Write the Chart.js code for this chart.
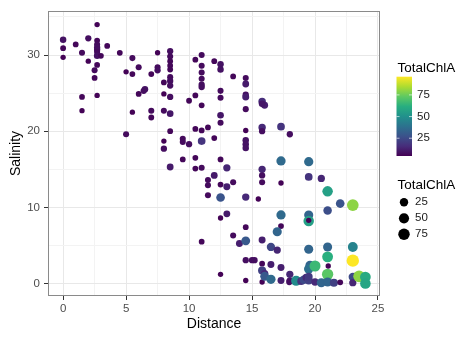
<!DOCTYPE html>
<html>
<head>
<meta charset="utf-8">
<script src="https://cdn.jsdelivr.net/npm/chart.js@4"></script>
<style>
  html, body { margin: 0; padding: 0; background: #ffffff; }
  #wrap { width: 474px; height: 338px; }
</style>
</head>
<body>
<div id="wrap"><canvas id="c" width="474" height="338"></canvas></div>
<script>
// ---- data ----
const distance = [
  0, 0, 0, 1.0, 1.5, 2.0, 2.0, 2.7, 2.7, 2.7,
  2.7, 2.7, 2.7, 2.7, 3.0, 2.7, 2.5, 2.5, 2.7, 3.5,
  1.5, 1.5, 4.5, 5.5, 5.0, 5.5, 6.0, 6.5, 6.4, 6.0,
  5.5, 5.0, 7.0, 7.0, 7.0, 7.5, 7.5, 7.5, 8.0, 8.0,
  8.0, 8.0, 8.0, 8.5, 8.5, 8.5, 8.5, 8.5, 8.5, 8.5,
  8.5, 8.5, 8.5, 8.5, 8.5, 9.5, 9.5, 10.0, 9.5, 10.0,
  10.5, 10.5, 10.5, 10.5, 10.5, 11.0, 11.0, 11.0, 11.0, 11.0,
  11.0, 11.0, 11.0, 11.0, 11.0, 11.5, 12.0, 12.0, 12.5, 12.5,
  12.5, 12.5, 12.5, 12.5, 12.5, 13.0, 13.5, 14.5, 14.5, 14.5,
  14.5, 14.5, 14.5, 14.5, 14.5, 14.5, 15.8, 16.0, 15.8, 15.8,
  15.8, 17.3, 18.0, 17.3, 19.5, 15.8, 15.8, 15.8, 19.5, 20.5,
  17.3, 11.5, 11.5, 12.0, 12.5, 13.0, 13.5, 11.5, 12.5, 14.5,
  15.5, 21.0, 22.0, 23.0, 21.0, 17.3, 19.5, 19.5, 19.5, 12.5,
  13.0, 17.3, 17.0, 13.5, 14.5, 11.0, 14.0, 14.5, 15.8, 16.5,
  17.0, 19.5, 21.0, 23.0, 21.0, 23.0, 14.5, 15.0, 15.2, 15.8,
  16.5, 17.3, 15.8, 16.0, 18.0, 19.6, 19.5, 20.0, 21.0, 21.05,
  12.5, 14.5, 15.8, 16.0, 16.5, 17.3, 18.0, 17.96, 18.5, 18.9,
  19.1, 19.3, 19.5, 19.5, 20.0, 20.5, 21.0, 21.5, 22.0, 23.0,
  23.0, 23.5, 24.0, 24.0
];
const salinity = [
  32.0, 30.9, 29.7, 31.4, 30.3, 32.2, 29.2, 34.0, 31.9, 31.4,
  31.0, 30.7, 30.4, 29.9, 29.9, 28.7, 28.0, 27.0, 24.7, 31.2,
  24.5, 22.7, 30.3, 29.6, 27.8, 27.5, 28.4, 25.5, 25.3, 24.9,
  22.5, 19.6, 27.5, 22.7, 21.8, 30.3, 28.4, 28.0, 26.4, 24.9,
  22.7, 18.7, 17.7, 30.5, 29.8, 29.2, 28.6, 28.1, 27.1, 26.6,
  26.0, 24.5, 22.3, 20.0, 15.3, 19.0, 18.6, 18.3, 16.3, 24.0,
  29.4, 24.7, 20.3, 16.5, 15.1, 15.2, 30.0, 28.6, 27.7, 26.9,
  26.1, 25.8, 23.4, 20.1, 18.7, 20.5, 19.1, 29.2, 28.8, 28.1,
  25.3, 24.4, 22.1, 21.1, 16.3, 15.2, 27.2, 27.0, 26.2, 24.8,
  24.5, 22.9, 20.1, 18.8, 18.3, 17.8, 23.9, 23.4, 23.6, 20.5,
  20.0, 20.6, 19.6, 16.1, 16.0, 15.0, 14.2, 13.3, 14.0, 13.8,
  13.2, 13.6, 12.9, 14.2, 13.0, 12.7, 13.3, 11.6, 11.3, 11.35,
  11.1, 12.1, 10.5, 10.3, 9.6, 9.0, 9.0, 8.2, 8.3, 8.6,
  9.15, 7.55, 6.8, 6.3, 7.4, 5.5, 5.25, 5.6, 5.7, 4.8,
  4.4, 4.5, 4.8, 4.8, 3.5, 3.0, 3.06, 3.06, 3.06, 2.6,
  2.5, 2.1, 1.7, 1.3, 1.2, 2.4, 1.9, 2.3, 1.2, 2.3,
  1.2, 0.4, 0.2, 0.95, 0.55, 0.4, 0.35, 0.2, 0.35, 0.3,
  0.5, 0.8, 0.4, 0.9, 0.2, 0.1, 0.2, 0.1, 0.15, 0.85,
  0.1, 0.95, 0.85, 0.0
];
const totalChlA = [
  9, 6, 5, 6, 7, 8, 5, 5, 6, 7,
  8, 8, 7, 9, 6, 6, 7, 6, 5, 6,
  6, 5, 6, 7, 5, 6, 7, 9, 8, 6,
  5, 7, 6, 7, 6, 5, 7, 8, 6, 5,
  7, 5, 8, 8, 7, 6, 6, 6, 7, 8,
  8, 8, 10, 6, 11, 7, 7, 8, 6, 6,
  6, 6, 6, 6, 6, 7, 7, 7, 7, 7,
  8, 8, 6, 6, 18, 6, 6, 6, 9, 9,
  7, 7, 10, 7, 6, 14, 6, 7, 11, 8,
  12, 7, 5, 9, 9, 9, 16, 12, 10, 15,
  8, 18, 8, 36, 36, 14, 8, 7, 18, 14,
  5, 7, 7, 11, 6, 12, 7, 7, 28, 15,
  5, 56, 28, 80, 26, 36, 34, 56, 5, 5,
  11, 6, 34, 7, 6, 6, 12, 30, 12, 24,
  14, 34, 34, 45, 62, 96, 8, 8, 8, 6,
  12, 12, 22, 15, 14, 34, 38, 66, 72, 5,
  5, 5, 5, 30, 36, 12, 10, 8, 48, 18,
  25, 15, 22, 20, 15, 34, 34, 22, 6, 25,
  14, 80, 60, 58
];
const xMajorTicks = [0, 5, 10, 15, 20, 25];
const xMinorTicks = [2.5, 7.5, 12.5, 17.5, 22.5];
const yMajorTicks = [0, 10, 20, 30];
const yMinorTicks = [5, 15, 25, 35];
const legendBreaks = [25, 50, 75];

// ---- scales for colour and size ----
const chlMin = 4.5, chlMax = 96;
const viridisStops = ['#440154', '#472d7b', '#3b528b', '#2c728e', '#21918c', '#28ae80', '#5ec962', '#addc30', '#fde725'];
function hexToRgb(h) { return [parseInt(h.slice(1,3),16), parseInt(h.slice(3,5),16), parseInt(h.slice(5,7),16)]; }
function viridis(t) {
  t = Math.max(0, Math.min(1, t));
  const n = viridisStops.length - 1;
  const p = t * n;
  const i = Math.min(n - 1, Math.floor(p));
  const f = p - i;
  const a = hexToRgb(viridisStops[i]), b = hexToRgb(viridisStops[i + 1]);
  const c = a.map((v, k) => Math.round(v + (b[k] - v) * f));
  return 'rgb(' + c.join(',') + ')';
}
function tOf(v) { return Math.max(0, Math.min(1, (v - chlMin) / (chlMax - chlMin))); }
function radiusOf(v) { return 2.4 + 3.8 * Math.sqrt(tOf(v)); }

const points = distance.map((d, i) => ({ x: d, y: salinity[i] }));

const FONT = '"Liberation Sans", Arial, Helvetica, sans-serif';

const panelPlugin = {
  id: 'panelDeco',
  afterDraw(chart) {
    const ctx = chart.ctx;
    const a = chart.chartArea;
    ctx.save();
    ctx.strokeStyle = '#8a8a8a';
    ctx.lineWidth = 1;
    ctx.strokeRect(Math.round(a.left) + 0.5, Math.round(a.top) + 0.5, Math.round(a.right - a.left) - 1, Math.round(a.bottom - a.top) - 1);

    // colour legend
    ctx.fillStyle = '#000';
    ctx.font = '13.5px ' + FONT;
    ctx.textAlign = 'left';
    ctx.textBaseline = 'middle';
    ctx.fillText('TotalChlA', 397.5, 68);
    const bx = 396.5, bw = 15.5, bTop = 76.7, bBot = 156;
    const g = ctx.createLinearGradient(0, bBot, 0, bTop);
    viridisStops.forEach((c, i) => g.addColorStop(i / (viridisStops.length - 1), c));
    ctx.fillStyle = g;
    ctx.fillRect(bx, bTop, bw, bBot - bTop);
    ctx.font = '11.5px ' + FONT;
    legendBreaks.forEach(v => {
      const yy = bBot - tOf(v) * (bBot - bTop);
      ctx.strokeStyle = 'rgba(255,255,255,0.8)';
      ctx.lineWidth = 0.8;
      ctx.beginPath();
      ctx.moveTo(bx, yy); ctx.lineTo(bx + 3, yy);
      ctx.moveTo(bx + bw - 3, yy); ctx.lineTo(bx + bw, yy);
      ctx.stroke();
      ctx.fillStyle = '#1a1a1a';
      ctx.fillText(String(v), 417, yy);
    });

    // size legend
    ctx.fillStyle = '#000';
    ctx.font = '13.5px ' + FONT;
    ctx.fillText('TotalChlA', 397.5, 185);
    ctx.font = '11.5px ' + FONT;
    legendBreaks.forEach((v, i) => {
      const yy = 202.3 + i * 16;
      ctx.fillStyle = '#000';
      ctx.beginPath();
      ctx.arc(404, yy, radiusOf(v), 0, Math.PI * 2);
      ctx.fill();
      ctx.fillStyle = '#1a1a1a';
      ctx.fillText(String(v), 415, yy);
    });
    ctx.restore();
  }
};

function gridColor(majors) {
  return ctx => (ctx.tick && majors.includes(ctx.tick.value)) ? '#e8e8e8' : '#f3f3f3';
}
function tickColor(majors) {
  return ctx => (ctx.tick && majors.includes(ctx.tick.value)) ? '#333333' : 'rgba(0,0,0,0)';
}

new Chart(document.getElementById('c'), {
  type: 'scatter',
  data: {
    datasets: [{
      data: points,
      backgroundColor: ctx => viridis(tOf(totalChlA[ctx.dataIndex])),
      borderWidth: 0,
      pointBorderWidth: 0,
      pointRadius: ctx => radiusOf(totalChlA[ctx.dataIndex]),
      pointHoverRadius: ctx => radiusOf(totalChlA[ctx.dataIndex])
    }]
  },
  options: {
    responsive: false,
    animation: false,
    devicePixelRatio: 1,
    layout: { padding: { left: 0, top: 7, right: 94, bottom: 0 } },
    plugins: { legend: { display: false }, tooltip: { enabled: false } },
    scales: {
      x: {
        type: 'linear',
        min: -1.2,
        max: 25.16,
        afterBuildTicks: s => { s.ticks = xMajorTicks.concat(xMinorTicks).sort((a, b) => a - b).map(v => ({ value: v })); },
        afterFit: s => { s.height = 42; },
        ticks: {
          autoSkip: false,
          maxRotation: 0,
          padding: 2,
          color: '#4d4d4d',
          font: { family: FONT, size: 11.5 },
          callback: v => xMajorTicks.includes(v) ? String(v) : ''
        },
        grid: { color: gridColor(xMajorTicks), lineWidth: 1, tickLength: 4, tickColor: tickColor(xMajorTicks), drawOnChartArea: true },
        border: { display: false },
        title: { display: true, text: 'Distance', color: '#000', font: { family: FONT, size: 14 }, padding: { top: 2, bottom: 5 } }
      },
      y: {
        type: 'linear',
        min: -1.64,
        max: 35.8,
        afterBuildTicks: s => { s.ticks = yMajorTicks.concat(yMinorTicks).sort((a, b) => a - b).map(v => ({ value: v })); },
        afterFit: s => { s.width = 48; },
        ticks: {
          autoSkip: false,
          padding: 4,
          color: '#4d4d4d',
          font: { family: FONT, size: 11.5 },
          callback: v => yMajorTicks.includes(v) ? String(v) : ''
        },
        grid: { color: gridColor(yMajorTicks), lineWidth: 1, tickLength: 4, tickColor: tickColor(yMajorTicks), drawOnChartArea: true },
        border: { display: false },
        title: { display: true, text: 'Salinity', color: '#000', font: { family: FONT, size: 14 }, padding: { top: 8, bottom: 2 } }
      }
    }
  },
  plugins: [panelPlugin]
});
</script>
</body>
</html>
